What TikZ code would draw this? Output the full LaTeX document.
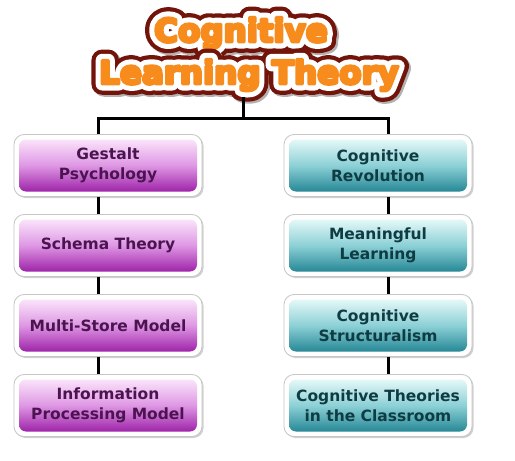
\documentclass[tikz,border=0pt]{standalone}
\usepackage{fontspec}
\setmainfont{DejaVu Sans}
\newfontfamily\tfontdark{DejaVu Sans Bold}[FakeBold=66]
\newfontfamily\tfontwhite{DejaVu Sans Bold}[FakeBold=40]
\newfontfamily\tfontfill{DejaVu Sans Bold}[FakeBold=9]
\usetikzlibrary{shadows}
\definecolor{tdark}{RGB}{115,20,10}
\definecolor{torange}{RGB}{247,140,28}
\definecolor{ltext}{RGB}{75,20,80}
\definecolor{rtext}{RGB}{14,60,66}
\definecolor{ptop}{RGB}{250,228,250}
\definecolor{pmid}{RGB}{222,150,228}
\definecolor{pbot}{RGB}{158,36,168}
\definecolor{ttop}{RGB}{228,248,248}
\definecolor{tmid}{RGB}{140,208,214}
\definecolor{tbot}{RGB}{38,136,150}
\definecolor{framegray}{RGB}{198,198,198}
\newcommand\titleline[1]{%
 \special{pdf:literal direct 1 j 1 J}%
 \makebox[0pt][l]{\kern2pt\raisebox{-2pt}{\tfontdark\textcolor{black!30}{#1}}}%
 \makebox[0pt][l]{\tfontdark\textcolor{tdark}{#1}}%
 \makebox[0pt][l]{\tfontwhite\textcolor{white}{#1}}%
 {\tfontfill\textcolor{torange}{#1}}}
\tikzset{
 titlefont/.style={font=\fontsize{32.5}{40}\selectfont, inner sep=4pt},
 frame/.style={draw=framegray, line width=0.8pt, fill=white, rounded corners=10pt,
   minimum width=188pt, minimum height=62pt,
   drop shadow={shadow xshift=1.5pt, shadow yshift=-1.5pt, opacity=0.3, fill=black!60}},
 boxfont/.style={font=\fontsize{15.5}{20}\selectfont\bfseries, align=center, inner sep=0pt},
 pbox/.style={boxfont, rounded corners=7pt, minimum width=178pt, minimum height=52pt,
   top color=ptop, bottom color=pbot, middle color=pmid, text=ltext},
 tbox/.style={boxfont, rounded corners=7pt, minimum width=178pt, minimum height=52pt,
   top color=ttop, bottom color=tbot, middle color=tmid, text=rtext},
 conn/.style={line width=3pt, black, line join=miter}
}
\begin{document}
\begin{tikzpicture}[x=1pt,y=-1pt]
\fill[white] (0,0) rectangle (515,461);
\useasboundingbox (0,0) rectangle (515,461);
% title
\node[titlefont, anchor=base] (title1) at (241,42) {\titleline{Cognitive}};
\node[titlefont, anchor=base] (title2) at (249,84) {\titleline{Learning Theory}};
% boxes
\foreach \i/\y in {1/165.5,2/245.5,3/325.5,4/405.5}{
  \node[frame] (Lf\i) at (108,\y) {};
  \node[frame] (Rf\i) at (378,\y) {};
}
\node[pbox] (L1) at (Lf1) {Gestalt\\Psychology};
\node[pbox] (L2) at (Lf2) {Schema Theory};
\node[pbox] (L3) at (Lf3) {Multi-Store Model};
\node[pbox] (L4) at (Lf4) {Information\\Processing Model};
\node[tbox] (R1) at (Rf1) {Cognitive\\Revolution};
\node[tbox] (R2) at (Rf2) {Meaningful\\Learning};
\node[tbox] (R3) at (Rf3) {Cognitive\\Structuralism};
\node[tbox] (R4) at (Rf4) {Cognitive Theories\\in the Classroom};
% connectors
\coordinate (j) at (243,118);
\coordinate (jl) at (98,118);
\coordinate (jr) at (388,118);
\draw[conn] (title2.south -| j) -- (j);
\draw[conn] (jl |- Lf1.north) -- (jl) -- (jr) -- (jr |- Rf1.north);
\draw[conn] (jl |- Lf1.south) -- (jl |- Lf2.north);
\draw[conn] (jl |- Lf2.south) -- (jl |- Lf3.north);
\draw[conn] (jl |- Lf3.south) -- (jl |- Lf4.north);
\draw[conn] (jr |- Rf1.south) -- (jr |- Rf2.north);
\draw[conn] (jr |- Rf2.south) -- (jr |- Rf3.north);
\draw[conn] (jr |- Rf3.south) -- (jr |- Rf4.north);
\end{tikzpicture}
\end{document}
